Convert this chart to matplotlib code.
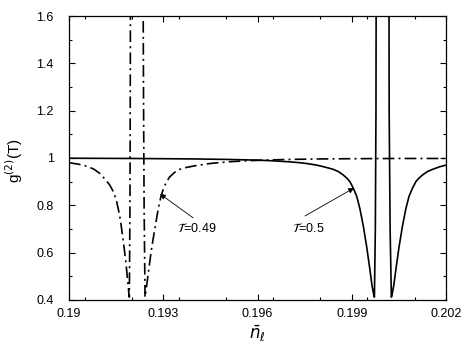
import matplotlib
matplotlib.use("Agg")
import matplotlib.pyplot as plt
from matplotlib.ticker import MultipleLocator

plt.rcParams['font.family'] = ['Liberation Sans', 'DejaVu Sans']
plt.rcParams['mathtext.fontset'] = 'dejavusans'

# tau = 0.49 (dash-dot) curve
x_049 = [0.1900, 0.1903, 0.1906, 0.1908, 0.1910, 0.19118, 0.1913, 0.1914,
         0.1915, 0.1916, 0.19166, 0.19174, 0.19181, 0.19186, 0.19190, 0.19192,
         0.19194, 0.19195, 0.19196, 0.19197,
         0.19234, 0.19235, 0.19237, 0.19239,
         0.19242, 0.19245, 0.19250, 0.19256, 0.19262, 0.19268, 0.19275, 0.19284,
         0.19293, 0.19303, 0.19319, 0.19335, 0.19350, 0.1937, 0.1940, 0.1945,
         0.1951, 0.1956, 0.1962, 0.1970, 0.1980, 0.1990, 0.2005, 0.2020]
g_049 = [0.980, 0.974, 0.964, 0.952, 0.933, 0.905, 0.885, 0.860,
         0.825, 0.765, 0.715, 0.635, 0.560, 0.490, 0.435, 0.412,
         0.800, 1.300, 2.000, 3.000,
         3.000, 2.000, 1.300, 0.800,
         0.412, 0.440, 0.490, 0.550, 0.610, 0.660, 0.715, 0.785,
         0.840, 0.880, 0.918, 0.938, 0.951, 0.959, 0.967, 0.977,
         0.984, 0.988, 0.991, 0.994, 0.996, 0.997, 0.998, 0.998]

# tau = 0.5 (solid) curve
x_05 = [0.1900, 0.1920, 0.1940, 0.1950, 0.1960, 0.1965, 0.1970, 0.19735,
        0.1976, 0.19788, 0.1981, 0.19825, 0.19841, 0.19858, 0.19873, 0.19885,
        0.19894, 0.19905, 0.19916, 0.19926, 0.19937, 0.19948, 0.19958, 0.19964,
        0.19969, 0.19972, 0.19975, 0.19977, 0.19978, 0.19979,
        0.20017, 0.20018, 0.20019, 0.20022,
        0.20026, 0.20029, 0.20034, 0.20040, 0.20050, 0.20061, 0.20072, 0.20082,
        0.20093, 0.20104, 0.20113, 0.20125, 0.2014, 0.20157, 0.2018, 0.2020]
g_05 = [0.999, 0.998, 0.996, 0.994, 0.991, 0.988, 0.984, 0.980,
        0.976, 0.970, 0.963, 0.958, 0.952, 0.942, 0.928, 0.914,
        0.900, 0.872, 0.837, 0.785, 0.710, 0.620, 0.525, 0.465,
        0.428, 0.412, 0.700, 1.200, 2.000, 3.000,
        3.000, 2.000, 1.200, 0.700,
        0.412, 0.428, 0.465, 0.525, 0.620, 0.710, 0.785, 0.837,
        0.872, 0.900, 0.914, 0.928, 0.942, 0.952, 0.963, 0.970]

xticks = [0.19, 0.193, 0.196, 0.199, 0.202]
xticklabels = ['0.19', '0.193', '0.196', '0.199', '0.202']
yticks = [0.4, 0.6, 0.8, 1.0, 1.2, 1.4, 1.6]
yticklabels = ['0.4', '0.6', '0.8', '1', '1.2', '1.4', '1.6']

fig = plt.figure(figsize=(4.74, 3.62), dpi=100)
ax = fig.add_axes([0.1456, 0.1713, 0.7954, 0.7845])

ax.plot(x_05, g_05, color='black', lw=1.2, solid_joinstyle='round')
ax.plot(x_049, g_049, color='black', lw=1.2, dashes=(7, 2.5, 1.2, 2.5))

ax.set_xlim(0.19, 0.202)
ax.set_ylim(0.4, 1.6)
ax.set_xticks(xticks)
ax.set_xticklabels(xticklabels)
ax.set_yticks(yticks)
ax.set_yticklabels(yticklabels)
ax.xaxis.set_minor_locator(MultipleLocator(0.0015))
ax.yaxis.set_minor_locator(MultipleLocator(0.1))
ax.tick_params(which='both', direction='in', top=True, right=True, labelsize=9, width=0.8)
ax.tick_params(which='major', length=4)
ax.tick_params(axis='x', which='major', pad=6)
ax.tick_params(axis='y', which='major', pad=11)
ax.tick_params(which='minor', length=2)
for s in ax.spines.values():
    s.set_linewidth(0.9)

ax.set_ylabel(r'g$^{(2)}$(T)', fontsize=11)
ax.yaxis.set_label_coords(-0.117, 0.49)
ax.set_xlabel(r'$\bar{n}_\ell$', fontsize=12, labelpad=2)

ax.text(0.19345, 0.70, r'$\mathcal{T}$=0.49', fontsize=9, ha='left', va='center')
ax.annotate('', xy=(0.19290, 0.848), xytext=(0.19395, 0.747),
            arrowprops=dict(arrowstyle='-|>', color='black', lw=0.6,
                            mutation_scale=8, shrinkA=0, shrinkB=0))
ax.text(0.19812, 0.70, r'$\mathcal{T}$=0.5', fontsize=9, ha='right', va='center')
ax.annotate('', xy=(0.19907, 0.873), xytext=(0.19751, 0.755),
            arrowprops=dict(arrowstyle='-|>', color='black', lw=0.6,
                            mutation_scale=8, shrinkA=0, shrinkB=0))

fig.savefig('out.png', dpi=100)
